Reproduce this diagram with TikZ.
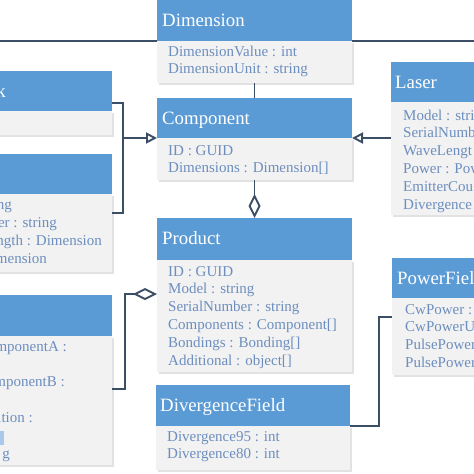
\documentclass[tikz,border=0pt]{standalone}
\usepackage{fontspec}
\setmainfont{Liberation Serif}
\usetikzlibrary{arrows.meta}
\definecolor{hdrblue}{RGB}{91,155,213}
\definecolor{bodygray}{RGB}{242,242,242}
\definecolor{txtblue}{RGB}{108,142,190}
\definecolor{lnc}{RGB}{59,78,102}
\definecolor{shd}{RGB}{226,226,228}
\definecolor{hilite}{RGB}{170,200,235}
\begin{document}
\begin{tikzpicture}[x=1pt,y=-1pt,
 hdr/.style={fill=hdrblue, draw=none, inner sep=0pt, outer sep=0pt, anchor=north west},
 bodybox/.style={fill=bodygray, draw=none, inner sep=0pt, outer sep=0pt, anchor=north west},
 htext/.style={text=white, font=\fontsize{18.8}{22}\selectfont, inner sep=0pt, anchor=base west},
 btext/.style={text=txtblue, font=\fontsize{15}{17.8}\selectfont, inner sep=0pt, anchor=north west, align=left},
 ltext/.style={text=txtblue, font=\fontsize{15}{17.8}\selectfont, inner sep=0pt, anchor=base east},
 conn/.style={draw=lnc, line width=1.9pt},
 gen/.style={conn, -{Triangle[open, length=11pt, width=11pt]}},
 agg/.style={conn, -{Diamond[open, length=24pt, width=12pt]}},
 shadowbox/.style={fill=shd}
]
\useasboundingbox (0,0) rectangle (474,474);
\fill[white] (0,0) rectangle (474,474);
\clip (0,0) rectangle (474,474);

% shadows
\fill[shadowbox] (158.5,43) rectangle (353.5,85);
\fill[shadowbox] (158.5,140) rectangle (353.5,182);
\fill[shadowbox] (158.5,262) rectangle (353.5,374);
\fill[shadowbox] (157.5,428) rectangle (351.5,472);
\fill[shadowbox] (392.5,104) rectangle (500,217);
\fill[shadowbox] (393.5,300) rectangle (500,377);
\fill[shadowbox] (-50,113) rectangle (113.5,137);
\fill[shadowbox] (-50,196) rectangle (113.5,274);
\fill[shadowbox] (-50,338) rectangle (113.5,467);

% Dimension
\node[hdr, minimum width=195pt, minimum height=41pt] (dimH) at (157,0) {};
\node[bodybox, minimum width=195pt, minimum height=42pt] (dimB) at (157,41) {};
\node[htext] (dimT) at (162,26) {Dimension};
\node[btext] (dimL) at (168,43.5) {\strut DimensionValue : int\\DimensionUnit : string};

% Component
\node[hdr, minimum width=195pt, minimum height=40pt] (compH) at (157,98) {};
\node[bodybox, minimum width=195pt, minimum height=42pt] (compB) at (157,138) {};
\node[htext] (compT) at (162,124) {Component};
\node[btext] (compL) at (168,142.5) {\strut ID : GUID\\Dimensions : Dimension[]};

% Product
\node[hdr, minimum width=195pt, minimum height=42pt] (prodH) at (157,218) {};
\node[bodybox, minimum width=195pt, minimum height=112pt] (prodB) at (157,260) {};
\node[htext] (prodT) at (162,244) {Product};
\node[btext] (prodL) at (168,263.5) {\strut ID : GUID\\Model : string\\SerialNumber : string\\Components : Component[]\\Bondings : Bonding[]\\Additional : object[]};

% DivergenceField
\node[hdr, minimum width=194pt, minimum height=41pt] (divH) at (156,385) {};
\node[bodybox, minimum width=194pt, minimum height=44pt] (divB) at (156,426) {};
\node[htext] (divT) at (160,411) {DivergenceField};
\node[btext] (divL) at (167,428.5) {\strut Divergence95 : int\\Divergence80 : int};

% Laser
\node[hdr, minimum width=100pt, minimum height=40pt] (lasH) at (391,62) {};
\node[bodybox, minimum width=100pt, minimum height=113pt] (lasB) at (391,102) {};
\node[htext] (lasT) at (395,88) {Laser};
\node[btext] (lasL) at (403,107.5) {\strut Model : stri\\SerialNumb\\WaveLengt\\Power : Pow\\EmitterCou\\Divergence};

% PowerField
\node[hdr, minimum width=100pt, minimum height=40pt] (powH) at (392,258) {};
\node[bodybox, minimum width=100pt, minimum height=77pt] (powB) at (392,298) {};
\node[htext] (powT) at (397,284) {PowerFiel};
\node[btext] (powL) at (405,301.5) {\strut CwPower :\\CwPowerU\\PulsePower\\PulsePower};

% Left box 1
\node[hdr, minimum width=162pt, minimum height=40pt] (l1H) at (-50,71) {};
\node[bodybox, minimum width=162pt, minimum height=24pt] (l1B) at (-50,111) {};
\node[htext, anchor=base east] (l1T) at (6,97) {k};

% Left box 2
\node[hdr, minimum width=162pt, minimum height=40pt] (l2H) at (-50,154) {};
\node[bodybox, minimum width=162pt, minimum height=78pt] (l2B) at (-50,194) {};
\node[ltext] (l2a) at (12,209) {ng};
\node[ltext] (l2b) at (57,227) {er : string};
\node[ltext] (l2c) at (102,245) {ngth : Dimension};
\node[ltext] (l2d) at (47,263) {mension};

% Left box 3
\node[hdr, minimum width=162pt, minimum height=41pt] (l3H) at (-50,295) {};
\node[bodybox, minimum width=162pt, minimum height=129pt] (l3B) at (-50,336) {};
\node[ltext] (l3a) at (67,351) {mponentA :};
\node[ltext] (l3b) at (65,386) {mponentB :};
\node[ltext] (l3c) at (33,422) {ition :};
\fill[hilite] (0,431) rectangle (3.5,445);
\node[ltext] (l3d) at (10,458) {g};

% connectors
\coordinate (dl) at (-5,41);
\coordinate (dr) at (480,41);
\draw[conn] (dl) -- (dimH.south west);
\draw[conn] (dimH.south east) -- (dr);
\draw[conn] (dimB.south) -- (compH.north);

\coordinate (j1) at (123,103);
\coordinate (j2) at (123,213);
\coordinate (j3) at (123,138);
\draw[conn] (l1H.east |- j1) -- (j1) -- (j2) -- (l2B.east |- j2);
\draw[gen] (j3) -- (compH.south west);
\draw[gen] (lasB.west |- compH.south east) -- (compH.south east);

\draw[agg] (compB.south) -- (prodH.north);
\coordinate (k1) at (125,389);
\coordinate (k2) at (125,294);
\draw[agg] (l3B.east |- k1) -- (k1) -- (k2) -- (prodB.west |- k2);

\coordinate (m1) at (379,426);
\coordinate (m2) at (379,317);
\draw[conn] (divH.south east) -- (m1) -- (m2) -- (powB.west |- m2);
\end{tikzpicture}
\end{document}
